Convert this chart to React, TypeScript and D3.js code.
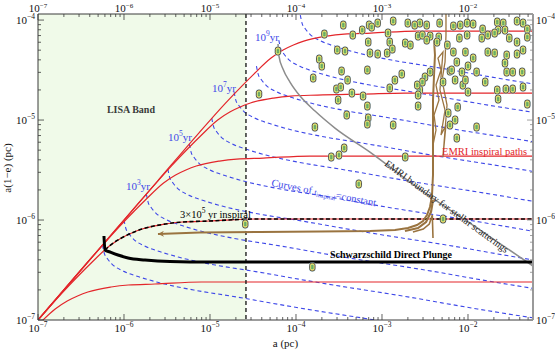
import React from "react";
import * as d3 from "d3";

type P = [number, number]; // [log10 a (pc), log10 a(1-e) (pc)]

const xDomain: [number, number] = [1e-7, 0.057];
const yDomain: [number, number] = [1e-7, 1.15e-4];
const xLabelExps = [-7, -6, -5, -4, -3, -2];
const yLabelExps = [-7, -6, -5, -4];
const lisaBandEdge = 2.62e-5;

// EMRI inspiral paths (red)
const emriPathA: P[] = [[-7,-7],[-6.11,-6.11],[-5.61,-5.61],[-5.13,-5.13],[-4.83,-4.84],[-4.63,-4.66],[-4.49,-4.54],[-4.29,-4.38],[-4.15,-4.30],[-4.03,-4.25],[-3.91,-4.21],[-3.64,-4.16],[-3.44,-4.14],[-3.13,-4.13],[-2.59,-4.11],[-2.11,-4.11],[-1.0,-4.11]];
const emriPathB: P[] = [[-7,-7],[-6.73,-6.73],[-6.23,-6.23],[-5.75,-5.75],[-5.45,-5.46],[-5.25,-5.28],[-5.11,-5.16],[-4.91,-5.00],[-4.77,-4.92],[-4.65,-4.87],[-4.53,-4.83],[-4.26,-4.78],[-4.06,-4.76],[-3.75,-4.75],[-3.21,-4.74],[-2.73,-4.73],[-1.0,-4.73]];
const emriPathC: P[] = [[-7,-7],[-6.86,-6.86],[-6.38,-6.38],[-6.08,-6.09],[-5.88,-5.91],[-5.74,-5.79],[-5.54,-5.63],[-5.40,-5.55],[-5.28,-5.50],[-5.16,-5.46],[-4.89,-5.41],[-4.69,-5.39],[-4.38,-5.38],[-3.84,-5.36],[-3.36,-5.36],[-1.0,-5.36]];
const emriPathD: P[] = [[-7,-7],[-6.71,-6.72],[-6.51,-6.54],[-6.37,-6.42],[-6.17,-6.26],[-6.03,-6.18],[-5.91,-6.13],[-5.79,-6.09],[-5.52,-6.04],[-5.32,-6.02],[-5.01,-6.01],[-4.47,-5.99],[-3.99,-5.99],[-1.0,-5.99]];
const emriPathE: P[] = [[-7,-7.05],[-6.80,-6.89],[-6.66,-6.81],[-6.54,-6.76],[-6.42,-6.72],[-6.15,-6.67],[-5.95,-6.65],[-5.64,-6.64],[-5.10,-6.62],[-4.62,-6.62],[-1.0,-6.62]];
const emriPaths = [emriPathA, emriPathB, emriPathC, emriPathD, emriPathE];

// 3x10^5 yr inspiral (black dashed overlay)
const inspiral3e5: P[] = [[-6.22,-6.30],[-6.17,-6.26],[-6.03,-6.18],[-5.91,-6.13],[-5.79,-6.09],[-5.52,-6.04],[-5.32,-6.02],[-5.01,-6.01],[-4.47,-5.99],[-3.99,-5.99],[-1.0,-5.99]];

// Curves of t_inspiral = constant (blue dashed), 10^9 ... 10^0 yr
const tInsp9: P[] = [[-3.95,-3.95],[-3.93,-4.03],[-3.89,-4.09],[-3.84,-4.14],[-3.71,-4.21],[-3.52,-4.27],[-3.32,-4.32],[-2.89,-4.40],[-2.46,-4.46],[-1.59,-4.59],[-0.71,-4.71]];
const tInsp8: P[] = [[-4.20,-4.20],[-4.18,-4.28],[-4.14,-4.34],[-4.09,-4.39],[-3.96,-4.46],[-3.77,-4.52],[-3.57,-4.57],[-3.14,-4.65],[-2.71,-4.71],[-1.84,-4.84],[-0.96,-4.96]];
const tInsp7: P[] = [[-4.46,-4.46],[-4.44,-4.54],[-4.40,-4.60],[-4.35,-4.65],[-4.22,-4.72],[-4.03,-4.78],[-3.83,-4.83],[-3.40,-4.91],[-2.97,-4.97],[-2.10,-5.10],[-1.22,-5.22],[-0.35,-5.35]];
const tInsp6: P[] = [[-4.72,-4.72],[-4.70,-4.80],[-4.66,-4.86],[-4.61,-4.91],[-4.48,-4.98],[-4.29,-5.04],[-4.09,-5.09],[-3.66,-5.17],[-3.23,-5.23],[-2.36,-5.36],[-1.48,-5.48],[-0.61,-5.61]];
const tInsp5: P[] = [[-4.98,-4.98],[-4.96,-5.06],[-4.92,-5.12],[-4.87,-5.17],[-4.74,-5.24],[-4.55,-5.30],[-4.35,-5.35],[-3.92,-5.43],[-3.49,-5.49],[-2.62,-5.62],[-1.74,-5.74],[-0.87,-5.87]];
const tInsp4: P[] = [[-5.24,-5.24],[-5.22,-5.32],[-5.18,-5.38],[-5.13,-5.43],[-5.00,-5.50],[-4.81,-5.56],[-4.61,-5.61],[-4.18,-5.69],[-3.75,-5.75],[-2.88,-5.88],[-2.00,-6.00],[-1.13,-6.13]];
const tInsp3: P[] = [[-5.49,-5.49],[-5.47,-5.57],[-5.43,-5.63],[-5.38,-5.68],[-5.25,-5.75],[-5.06,-5.81],[-4.86,-5.86],[-4.43,-5.94],[-4.00,-6.00],[-3.13,-6.13],[-2.25,-6.25],[-1.38,-6.38],[-0.50,-6.50]];
const tInsp2: P[] = [[-5.74,-5.74],[-5.72,-5.82],[-5.68,-5.88],[-5.63,-5.93],[-5.50,-6.00],[-5.31,-6.06],[-5.11,-6.11],[-4.68,-6.19],[-4.25,-6.25],[-3.38,-6.38],[-2.50,-6.50],[-1.63,-6.63],[-0.75,-6.75]];
const tInsp1: P[] = [[-6.00,-6.00],[-5.98,-6.08],[-5.94,-6.14],[-5.89,-6.19],[-5.76,-6.26],[-5.57,-6.32],[-5.37,-6.37],[-4.94,-6.45],[-4.51,-6.51],[-3.64,-6.64],[-2.76,-6.76],[-1.89,-6.89],[-1.01,-7.01]];
const tInsp0: P[] = [[-6.25,-6.25],[-6.23,-6.33],[-6.19,-6.39],[-6.14,-6.44],[-6.01,-6.51],[-5.82,-6.57],[-5.62,-6.62],[-5.19,-6.70],[-4.76,-6.76],[-3.89,-6.89],[-3.01,-7.01],[-2.14,-7.14]];
const tInspCurves = [tInsp9, tInsp8, tInsp7, tInsp6, tInsp5, tInsp4, tInsp3, tInsp2, tInsp1, tInsp0];

// Schwarzschild direct plunge (black thick)
const plunge: P[] = [[-6.233,-6.16],[-6.221,-6.30],[-6.163,-6.32],[-6.07,-6.35],[-5.953,-6.38],[-5.756,-6.40],[-5.465,-6.415],[-5.0,-6.42],[-1.0,-6.42]];

// EMRI boundary for stellar scatterings (gray)
const emriBoundary: P[] = [[-4.209,-4.24],[-4.198,-4.36],[-4.151,-4.49],[-4.07,-4.62],[-3.953,-4.76],[-3.779,-4.91],[-3.547,-5.08],[-3.14,-5.32],[-2.674,-5.62],[-2.209,-5.90],[-1.86,-6.10],[-1.244,-6.46]];

// Brown evolution track
const trackMain: P[] = [[-5.605,-6.14],[-5.116,-6.125],[-4.419,-6.12],[-3.721,-6.115],[-3.14,-6.11],[-2.849,-6.10],[-2.698,-6.08],[-2.593,-6.05],[-2.523,-6.01],[-2.477,-5.95],[-2.442,-5.87],[-2.419,-5.76],[-2.407,-5.55],[-2.407,-5.30],[-2.407,-5.05],[-2.407,-4.80],[-2.395,-4.55],[-2.384,-4.35],[-2.395,-4.20]];
const trackNoise: P[] = [[-2.407,-5.25],[-2.372,-5.10],[-2.395,-4.95],[-2.337,-4.80],[-2.372,-4.65],[-2.314,-4.50],[-2.349,-4.38],[-2.291,-4.32],[-2.326,-4.70],[-2.267,-4.90],[-2.314,-5.15],[-2.256,-5.05],[-2.291,-5.37],[-2.244,-4.85],[-2.302,-4.60],[-2.267,-4.42],[-2.256,-4.15],[-2.256,-3.92]];
const trackBase: P[] = [[-2.733,-6.11],[-2.581,-6.08],[-2.488,-6.02],[-2.43,-5.92],[-2.407,-5.80]];
const trackBase2: P[] = [[-2.64,-6.12],[-2.52,-6.09],[-2.45,-6.04],[-2.415,-5.95],[-2.407,-6.18]];

// Scattered data points (log10 a, log10 a(1-e))
const stars: P[] = [
  [-3.45,-4.05],[-3.67,-4.14],[-3.34,-4.15],[-3.23,-4.10],[-3.15,-4.05],[-3.16,-4.22],[-3.52,-4.30],[-3.43,-4.31],[-3.14,-4.33],
  [-3.73,-4.39],[-3.70,-4.46],[-3.47,-4.51],[-3.80,-4.58],[-3.40,-4.60],[-3.17,-4.50],[-4.43,-4.74],[-4.21,-4.31],[-3.53,-4.69],
  [-3.48,-4.67],[-3.35,-4.73],[-3.22,-4.76],[-3.51,-4.80],[-3.17,-4.86],[-3.41,-4.95],[-3.16,-4.98],
  [-3.05,-4.03],[-2.87,-4.01],[-3.12,-4.07],[-2.70,-4.03],[-2.56,-4.03],[-2.48,-4.05],[-2.33,-4.03],[-2.17,-4.06],[-2.09,-4.05],
  [-2.01,-4.03],[-1.94,-4.04],[-1.83,-4.09],[-1.66,-4.02],[-1.65,-4.10],[-1.59,-4.03],[-1.43,-4.01],[-1.36,-4.03],[-1.31,-4.09],
  [-2.93,-4.13],[-2.91,-4.22],[-2.88,-4.29],[-2.73,-4.23],[-2.67,-4.25],[-3.05,-4.34],[-2.94,-4.33],[-2.58,-4.16],[-2.44,-4.16],
  [-2.34,-4.17],[-2.24,-4.25],[-2.10,-4.18],[-2.01,-4.15],[-1.84,-4.18],[-1.77,-4.15],[-1.69,-4.13],[-1.57,-4.10],[-1.52,-4.18],
  [-1.43,-4.22],[-1.31,-4.17],[-2.17,-4.32],[-2.03,-4.32],[-1.94,-4.38],[-2.13,-4.42],[-2.00,-4.46],[-1.77,-4.32],[-1.69,-4.33],
  [-1.55,-4.35],[-1.43,-4.34],[-1.36,-4.30],[-1.57,-4.43],[-1.55,-4.52],[-1.48,-4.52],[-1.37,-4.52],[-2.07,-4.52],[-2.21,-4.51],
  [-1.90,-4.52],[-2.77,-4.54],[-2.85,-4.60],[-2.15,-4.60],[-1.80,-4.62],[-2.91,-4.68],[-2.56,-4.70],[-2.00,-4.72],[-1.56,-4.69],
  [-1.48,-4.69],[-1.36,-4.67],[-1.66,-4.70],[-2.06,-4.65],[-2.12,-4.87],[-2.58,-4.86],[-1.65,-4.79],[-1.31,-4.84],[-2.23,-4.93],
  [-2.62,-4.05],[-2.53,-4.15],[-2.48,-4.20],[-2.36,-4.22],[-2.44,-4.52],[-2.50,-4.57],[-2.53,-4.62],[-2.59,-4.65],[-2.58,-4.75],
  [-2.29,-4.62],[-2.19,-4.50],[-2.03,-4.60],[-2.15,-5.00],[-2.87,-5.05],[-2.21,-5.05],[-2.13,-5.18],[-2.73,-5.37],[-2.29,-5.99],
  [-1.90,-5.07],[-3.78,-5.07],[-3.17,-5.04],[-3.44,-5.28],[-3.50,-5.35],[-3.59,-5.37],[-3.27,-5.64],[-4.59,-6.04],[-3.81,-6.47]
];

const serif = "'Liberation Serif', 'DejaVu Serif', serif";

function Star({ cx, cy }: { cx: number; cy: number }) {
  return (
    <g>
      <rect x={cx - 3.4} y={cy - 4.8} width={6.8} height={9.6} rx={3} fill="#c8eefa" opacity={0.75} />
      <rect x={cx - 2.7} y={cy - 4} width={5.4} height={8} rx={2.3} fill="#f6dc72" stroke="#2a2a2a" strokeWidth={0.75} />
      <rect x={cx - 1.5} y={cy - 2.6} width={3} height={5.2} rx={1.3} fill="#8fe06f" />
      <line x1={cx - 1} x2={cx + 1} y1={cy - 1} y2={cy - 1} stroke="#34405a" strokeWidth={0.7} />
      <line x1={cx - 1} x2={cx + 1} y1={cy + 1} y2={cy + 1} stroke="#34405a" strokeWidth={0.7} />
    </g>
  );
}

function Pow({ e, fs = 11, sup = 7.5, rise = 5 }: { e: number; fs?: number; sup?: number; rise?: number }) {
  return (
    <>
      <tspan fontSize={fs}>10</tspan>
      <tspan fontSize={sup} dy={-rise}>{e < 0 ? `\u2212${-e}` : `${e}`}</tspan>
    </>
  );
}

export default function App() {
  const L = 38, R = 533, T = 14, B = 320;
  const x = d3.scaleLog().domain(xDomain).range([L, R]);
  const y = d3.scaleLog().domain(yDomain).range([B, T]);
  const X = (u: number) => x(Math.pow(10, u));
  const Y = (v: number) => y(Math.pow(10, v));
  const smooth = d3.line<P>().x(d => X(d[0])).y(d => Y(d[1])).curve(d3.curveMonotoneX);
  const poly = d3.line<P>().x(d => X(d[0])).y(d => Y(d[1]));

  const isMajor = (v: number) => Math.abs(Math.log10(v) - Math.round(Math.log10(v))) < 1e-6;
  const xTicks = x.ticks().filter(v => v >= xDomain[0] * 0.999 && v <= xDomain[1]);
  const yTicks = y.ticks().filter(v => v >= yDomain[0] * 0.999 && v <= yDomain[1]);

  const blue = "#3e48e8";
  const red = "#e3262b";
  const brown = "#9a7440";
  const axis = "#3a3a3a";

  return (
    <svg width={555} height={351} style={{ position: "absolute", left: 0, top: 0, display: "block" }} fontFamily={serif}>
      <defs>
        <clipPath id="plotClip">
          <rect x={L} y={T} width={R - L} height={B - T} />
        </clipPath>
        <marker id="arrowL" viewBox="0 0 10 10" refX={10} refY={5} markerWidth={7} markerHeight={6}
          markerUnits="userSpaceOnUse" orient="auto-start-reverse">
          <path d="M0,0 L10,5 L0,10 L3,5 z" fill={brown} />
        </marker>
      </defs>
      <rect x={0} y={0} width={555} height={351} fill="#fff" />
      <rect x={L} y={T} width={x(lisaBandEdge) - L} height={B - T} fill="#f0fae9" />

      <g clipPath="url(#plotClip)">
        {tInspCurves.map((c, i) => (
          <path key={"t" + i} d={smooth(c) || ""} fill="none" stroke={blue} strokeWidth={1.1} strokeDasharray="4,3" />
        ))}
        {emriPaths.map((c, i) => (
          <path key={"r" + i} d={smooth(c) || ""} fill="none" stroke={red} strokeWidth={1.2} />
        ))}
        <path d={smooth(inspiral3e5) || ""} fill="none" stroke="#000" strokeWidth={1.6} strokeDasharray="4,2.5" />
        <line x1={x(lisaBandEdge)} x2={x(lisaBandEdge)} y1={T} y2={B} stroke="#111" strokeWidth={1.3} strokeDasharray="4,3" />
        <path d={smooth(emriBoundary) || ""} fill="none" stroke="#8c8c8c" strokeWidth={1.5} />
        <path d={smooth(plunge) || ""} fill="none" stroke="#000" strokeWidth={3} />
        <path d={poly(trackBase) || ""} fill="none" stroke={brown} strokeWidth={2.2} />
        <path d={poly(trackBase2) || ""} fill="none" stroke={brown} strokeWidth={1.6} />
        <path d={poly(trackNoise) || ""} fill="none" stroke={brown} strokeWidth={1.3} />
        <path d={poly(trackMain) || ""} fill="none" stroke={brown} strokeWidth={2} markerStart="url(#arrowL)" />
        {stars.map((s, i) => (
          <Star key={"s" + i} cx={X(s[0])} cy={Y(s[1])} />
        ))}
      </g>

      {/* annotations */}
      <text x={X(-5.919)} y={Y(-4.93)} textAnchor="middle" fontSize={10} fontWeight="bold" fill="#3a3a3a">LISA Band</text>
      <text x={X(-4.477)} y={Y(-4.21)} fill={blue} fontSize={11}><Pow e={9} /><tspan dy={5}>yr</tspan></text>
      <text x={X(-4.977)} y={Y(-4.72)} fill={blue} fontSize={11}><Pow e={7} /><tspan dy={5}>yr</tspan></text>
      <text x={X(-5.488)} y={Y(-5.21)} fill={blue} fontSize={11}><Pow e={5} /><tspan dy={5}>yr</tspan></text>
      <text x={X(-5.977)} y={Y(-5.70)} fill={blue} fontSize={11}><Pow e={3} /><tspan dy={5}>yr</tspan></text>
      <text x={X(-5.349)} y={Y(-5.98)} fill="#000" fontSize={10.5}>
        <tspan>3×10</tspan><tspan fontSize={7.5} dy={-5}>5</tspan><tspan dy={5}> yr inspiral</tspan>
      </text>
      <text transform={`translate(${X(-4.291)},${Y(-5.66)}) rotate(11)`} fill={blue} fontSize={10.5}>
        <tspan>Curves of </tspan><tspan fontSize={8}>t</tspan><tspan fontSize={6.5} dy={2}>inspiral</tspan><tspan dy={-2}>=constant</tspan>
      </text>
      <text x={X(-2.302)} y={Y(-5.35)} fill={red} fontSize={10.5}>EMRI inspiral paths</text>
      <text transform={`translate(${X(-2.977)},${Y(-5.45)}) rotate(36)`} fill="#222" fontSize={10} textLength={150}>
        EMRI boundary for stellar scatterings
      </text>
      <text x={X(-3.605)} y={Y(-6.38)} fill="#000" fontSize={10} fontWeight="bold" textLength={122}>Schwarzschild Direct Plunge</text>

      {/* frame */}
      <line x1={L} x2={R} y1={B} y2={B} stroke={axis} strokeWidth={1} />
      <line x1={L} x2={R} y1={T} y2={T} stroke={axis} strokeWidth={1} />
      <line x1={L} x2={L} y1={T} y2={B} stroke={axis} strokeWidth={1} />
      <line x1={R} x2={R} y1={T} y2={B} stroke="#9a9a9a" strokeWidth={2} />
      {xTicks.map((v, i) => {
        const len = isMajor(v) ? 6 : 3;
        const px = x(v);
        return (
          <g key={"xt" + i}>
            <line x1={px} x2={px} y1={B} y2={B - len} stroke={axis} strokeWidth={0.8} />
            <line x1={px} x2={px} y1={T} y2={T + len} stroke={axis} strokeWidth={0.8} />
          </g>
        );
      })}
      {yTicks.map((v, i) => {
        const len = isMajor(v) ? 6 : 3;
        const py = y(v);
        return (
          <g key={"yt" + i}>
            <line x1={L} x2={L + len} y1={py} y2={py} stroke={axis} strokeWidth={0.8} />
            <line x1={R} x2={R - len} y1={py} y2={py} stroke="#8a8a8a" strokeWidth={0.8} />
          </g>
        );
      })}
      {xLabelExps.map(e => (
        <g key={"xl" + e}>
          <text x={x(Math.pow(10, e))} y={332} textAnchor="middle" fill="#111"><Pow e={e} /></text>
          <text x={x(Math.pow(10, e))} y={11.5} textAnchor="middle" fill="#111"><Pow e={e} rise={4} sup={7} /></text>
        </g>
      ))}
      {yLabelExps.map(e => (
        <g key={"yl" + e}>
          <text x={L - 3} y={y(Math.pow(10, e)) + 4} textAnchor="end" fill="#111"><Pow e={e} /></text>
          <text x={R + 3} y={y(Math.pow(10, e)) + 4} textAnchor="start" fill="#111"><Pow e={e} /></text>
        </g>
      ))}
      <text x={(L + R) / 2} y={347} textAnchor="middle" fontSize={11} fill="#111">a (pc)</text>
      <text transform={`translate(11,${(T + B) / 2 + 1}) rotate(-90)`} textAnchor="middle" fontSize={11} fill="#111">a(1−e) (pc)</text>
    </svg>
  );
}
